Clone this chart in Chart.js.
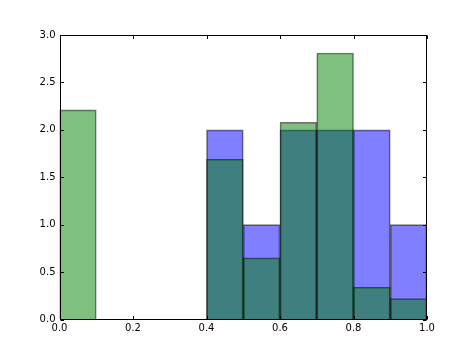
<!DOCTYPE html>
<html>
<head>
<meta charset="utf-8">
<script src="https://cdn.jsdelivr.net/npm/chart.js@4/dist/chart.umd.min.js"></script>
<style>
html,body{margin:0;padding:0;background:#fff;}
#wrap{width:474px;height:355px;}
</style>
</head>
<body>
<div id="wrap"><canvas id="c" width="474" height="355"></canvas></div>
<script>
// Bin centres (bin width 0.1, from 0.0 to 1.0)
const binCenters = [0.05, 0.15, 0.25, 0.35, 0.45, 0.55, 0.65, 0.75, 0.85, 0.95];
// Blue histogram heights
const blueValues = [0, 0, 0, 0, 2.0, 1.0, 2.0, 2.0, 2.0, 1.0];
// Green histogram heights
const greenValues = [2.21, 0, 0, 0, 1.69, 0.65, 2.08, 2.81, 0.34, 0.22];
// Tick labels
const xTicks = [0.0, 0.2, 0.4, 0.6, 0.8, 1.0];
const yTicks = [0.0, 0.5, 1.0, 1.5, 2.0, 2.5, 3.0];

const toPoints = vals => binCenters.map((x, i) => ({x: x, y: vals[i]}));

const framePlugin = {
  id: 'frame',
  afterDraw(chart) {
    const ctx = chart.ctx, a = chart.chartArea;
    const xs = chart.scales.x, ys = chart.scales.y;
    ctx.save();
    ctx.strokeStyle = '#000';
    ctx.lineWidth = 1;
    const L = Math.round(a.left) + 0.5, R = Math.round(a.right) - 0.5;
    const T = Math.round(a.top) + 0.5, B = Math.round(a.bottom) - 0.5;
    ctx.strokeRect(L, T, R - L, B - T);
    const tl = 3.5;
    ctx.beginPath();
    xTicks.forEach(v => {
      const px = Math.round(xs.getPixelForValue(v)) + 0.5;
      ctx.moveTo(px, B); ctx.lineTo(px, B - tl);
      ctx.moveTo(px, T); ctx.lineTo(px, T + tl);
    });
    yTicks.forEach(v => {
      const py = Math.round(ys.getPixelForValue(v)) + 0.5;
      ctx.moveTo(L, py); ctx.lineTo(L + tl, py);
      ctx.moveTo(R, py); ctx.lineTo(R - tl, py);
    });
    ctx.stroke();
    ctx.restore();
  }
};

const fnt = {family: 'DejaVu Sans', size: 10};

new Chart(document.getElementById('c'), {
  type: 'bar',
  data: {
    datasets: [
      {
        label: 'green',
        data: toPoints(greenValues),
        backgroundColor: 'rgba(0,128,0,0.5)',
        borderColor: 'rgba(0,0,0,0.55)',
        borderWidth: 1,
        order: 0
      },
      {
        label: 'blue',
        data: toPoints(blueValues),
        backgroundColor: 'rgba(0,0,255,0.5)',
        borderColor: 'rgba(0,0,0,0.55)',
        borderWidth: 1,
        order: 1
      }
    ]
  },
  options: {
    responsive: false,
    animation: false,
    events: [],
    grouped: false,
    barPercentage: 1.0,
    categoryPercentage: 1.0,
    layout: {padding: {left: 0, top: 35, right: 47, bottom: 0}},
    plugins: {legend: {display: false}, tooltip: {enabled: false}},
    scales: {
      x: {
        type: 'linear',
        min: 0, max: 1,
        offset: false,
        grid: {display: false, drawTicks: false},
        border: {display: false},
        afterBuildTicks: s => { s.ticks = xTicks.map(v => ({value: v})); },
        afterFit: s => { s.height = 35.5; },
        ticks: {
          color: '#000', font: fnt, padding: 3, maxRotation: 0,
          callback: v => Number(v).toFixed(1)
        }
      },
      y: {
        type: 'linear',
        min: 0, max: 3,
        grid: {display: false, drawTicks: false},
        border: {display: false},
        afterBuildTicks: s => { s.ticks = yTicks.map(v => ({value: v})); },
        afterFit: s => { s.width = 59.5; },
        ticks: {
          color: '#000', font: fnt, padding: 4,
          callback: v => Number(v).toFixed(1)
        }
      }
    }
  },
  plugins: [framePlugin]
});
</script>
</body>
</html>
